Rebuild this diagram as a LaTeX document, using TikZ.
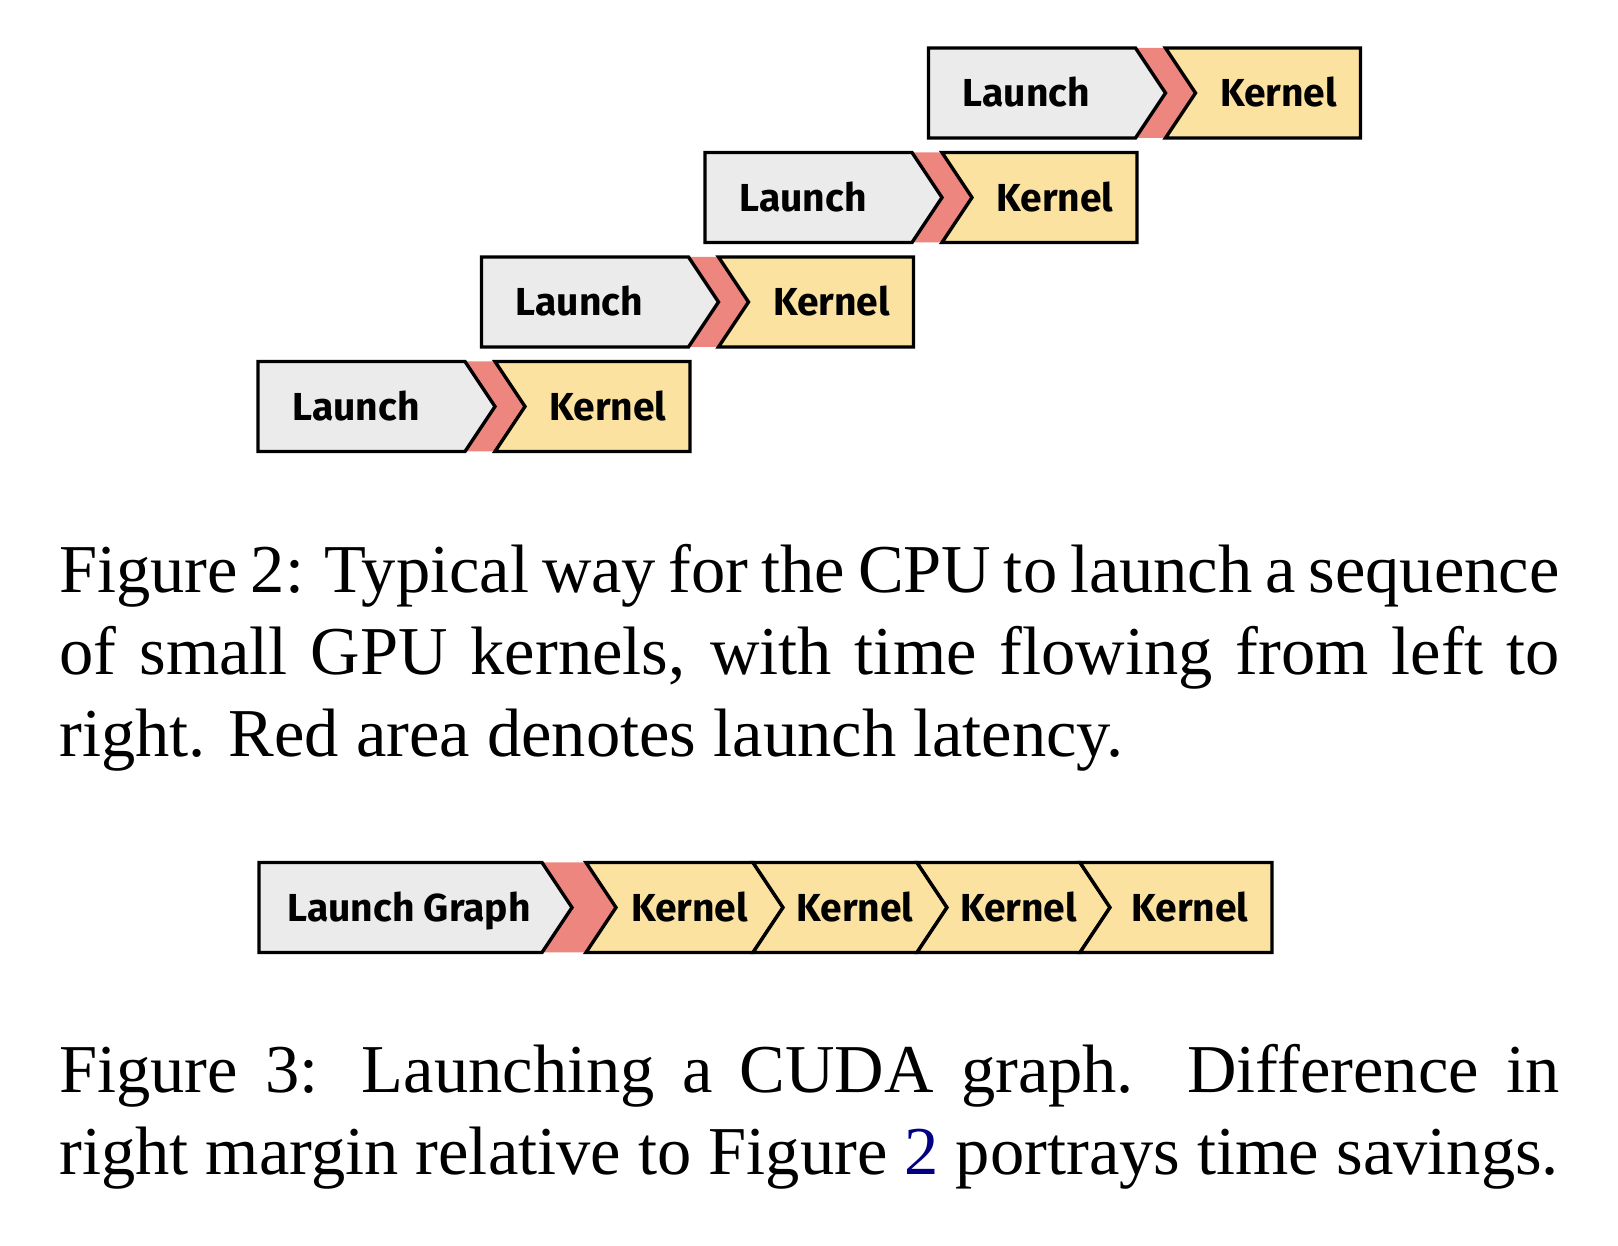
\documentclass[tikz,border=0pt]{standalone}
\usepackage{fontspec}
\setmainfont{Liberation Serif}
\newfontfamily\blockfont{Fira Sans}
\definecolor{launchgray}{RGB}{235,235,235}
\definecolor{kernelyellow}{RGB}{251,226,161}
\definecolor{latencyred}{RGB}{238,134,128}
\definecolor{linkblue}{rgb}{0,0,0.5}

\begin{document}
\begin{tikzpicture}[x=0.146pt,y=-0.146pt,
  blk/.style={draw=black,line width=0.5pt},
  lbl/.style={anchor=base,inner sep=0pt,font=\blockfont\bfseries\fontsize{5.7}{7}\selectfont},
  capline/.style={anchor=base west,inner sep=0pt,font=\fontsize{10}{12}\selectfont}]
\useasboundingbox (0,0) rectangle (1618,1246);
% Figure 2: one launch + kernel per row, shifted right and up
\foreach \r in {0,...,3}{
  \pgfmathsetmacro{\L}{258+223.5*\r}
  \pgfmathsetmacro{\T}{361.5-104.5*\r}
  \pgfmathsetmacro{\M}{\T+45}
  \pgfmathsetmacro{\B}{\T+90}
  \fill[latencyred] ({\L+207},\T) -- ({\L+237},\T) -- ({\L+267},\M) -- ({\L+237},\B) -- ({\L+207},\B) -- ({\L+237},\M) -- cycle;
  \draw[blk,fill=launchgray] (\L,\T) -- ({\L+207},\T) -- ({\L+237},\M) -- ({\L+207},\B) -- (\L,\B) -- cycle;
  \draw[blk,fill=kernelyellow] ({\L+237},\T) -- ({\L+432},\T) -- ({\L+432},\B) -- ({\L+237},\B) -- ({\L+267},\M) -- cycle;
  \node[lbl] (launch\r) at ({\L+98},{\M+14}) {Launch};
  \node[lbl] (kernel\r) at ({\L+350},{\M+14}) {Kernel};
}
\node[capline] (fig2a) at (58,593) {\hbox to 219pt{Figure 2: Typical way for the CPU to launch a sequence}};
\node[capline] (fig2b) at (58,675) {\hbox to 219pt{of small GPU kernels, with time flowing from left to}};
\node[capline] (fig2c) at (58,757) {right. Red area denotes launch latency.};
% Figure 3: graph launch, kernels back to back
\def\T{862.5}\def\M{907.5}\def\B{952.5}
\fill[latencyred] (542,\T) -- (586,\T) -- (616,\M) -- (586,\B) -- (542,\B) -- (572,\M) -- cycle;
\draw[blk,fill=launchgray] (259,\T) -- (542,\T) -- (572,\M) -- (542,\B) -- (259,\B) -- cycle;
\node[lbl] (graph) at (409,{\M+14}) {Launch Graph};
\foreach \a/\b [count=\i] in {586/753,753/917,917/1080}{
  \draw[blk,fill=kernelyellow] (\a,\T) -- (\b,\T) -- ({\b+30},\M) -- (\b,\B) -- (\a,\B) -- ({\a+30},\M) -- cycle;
  \node[lbl] (gkernel\i) at ({(\a+\b)/2+20},{\M+14}) {Kernel};
}
\draw[blk,fill=kernelyellow] (1080,\T) -- (1272,\T) -- (1272,\B) -- (1080,\B) -- (1110,\M) -- cycle;
\node[lbl] (gkernel4) at (1190,{\M+14}) {Kernel};
\node[capline] (fig3a) at (58,1093) {\hbox to 219pt{Figure 3: Launching a CUDA graph. Difference in}};
\node[capline] (fig3b) at (58,1175) {right margin relative to Figure \textcolor{linkblue}{2} portrays time savings.};
\end{tikzpicture}
\end{document}
